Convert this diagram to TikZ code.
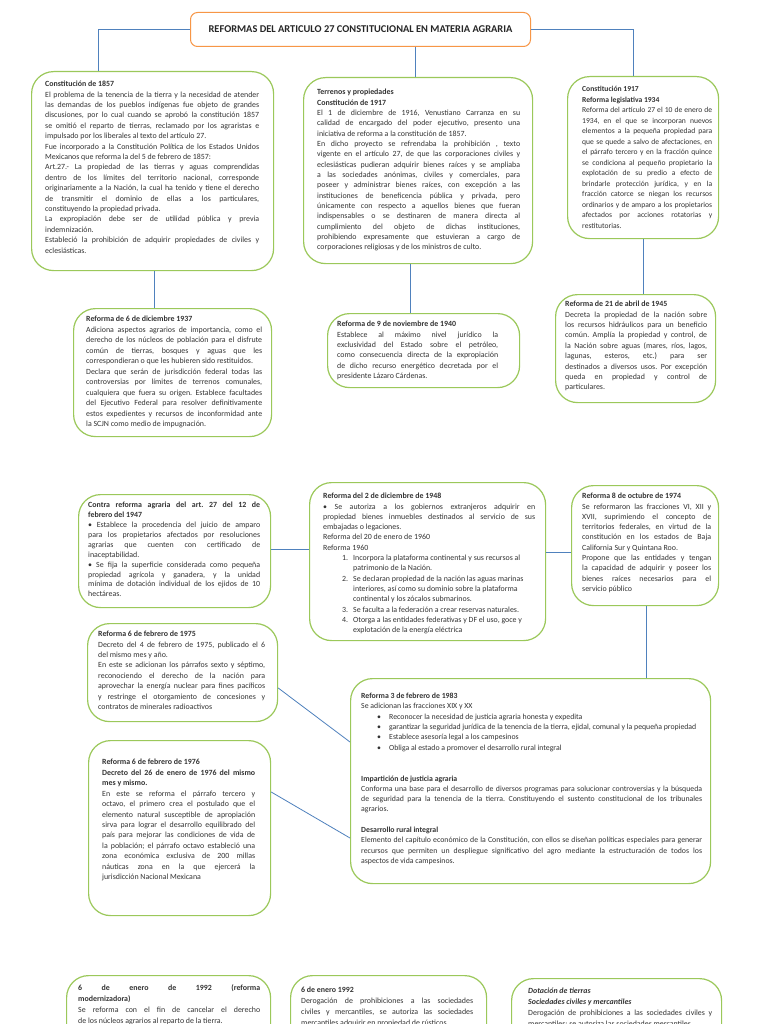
\documentclass[tikz,border=0pt]{standalone}
\usepackage{fontspec}
\setmainfont{Carlito}
\usetikzlibrary{calc}
\definecolor{boxgreen}{HTML}{9BC85A}
\definecolor{linkblue}{HTML}{4F81BD}
\definecolor{titleorange}{HTML}{F79646}
\definecolor{txtgray}{HTML}{333333}
\newcommand\jbr{\linebreak}
\newcommand\numitem[2]{\par\hangindent=30pt\hangafter=1\noindent\hspace*{19pt}\makebox[11pt][l]{#1}#2}
\newcommand\bitem[1]{\par\hangindent=28pt\hangafter=1\noindent\hspace*{16pt}\makebox[12pt][l]{•}#1}
\tolerance=10000 \hbadness=10000 \hyphenpenalty=10000 \exhyphenpenalty=10000
\frenchspacing
\begin{document}
\begin{tikzpicture}[x=1pt,y=-1pt,
  gbox/.style={draw=boxgreen, line width=1.2pt, rounded corners=22pt, anchor=north west, inner sep=0pt},
  link/.style={draw=linkblue, line width=0.8pt},
  txt/.style={anchor=north west, inner sep=0pt, align=justify, text=txtgray, font=\fontsize{7.9}{#1}\selectfont},
  txt/.default=10.4]
\useasboundingbox (0,0) rectangle (768,1024);
\clip (0,0) rectangle (768,1024);
\fill[white] (0,0) rectangle (768,1024);

% title
\node[draw=titleorange, line width=1pt, rounded corners=7pt, anchor=north west, minimum width=340pt, minimum height=34pt, inner sep=0pt, text=black!85, font=\fontsize{10.4}{12}\selectfont\bfseries] (title) at (190,12) {REFORMAS DEL ARTICULO 27 CONSTITUCIONAL EN MATERIA AGRARIA};

% boxes
\node[gbox, minimum width=242pt, minimum height=199pt] (b1) at (31,71) {};
\node[gbox, minimum width=229pt, minimum height=186pt] (b2) at (303,77) {};
\node[gbox, minimum width=151pt, minimum height=162pt] (b3) at (567,76) {};
\node[gbox, minimum width=198pt, minimum height=128pt] (b4) at (73,308) {};
\node[gbox, minimum width=192pt, minimum height=74pt] (b5) at (327,313) {};
\node[gbox, minimum width=160pt, minimum height=108pt] (b6) at (555,294) {};
\node[gbox, minimum width=192pt, minimum height=113pt] (b7) at (78,494) {};
\node[gbox, minimum width=236pt, minimum height=158pt] (b8) at (309,482) {};
\node[gbox, minimum width=147pt, minimum height=120pt] (b9) at (571,485) {};
\node[gbox, minimum width=190pt, minimum height=98pt] (b10) at (87,623) {};
\node[gbox, minimum width=182pt, minimum height=175pt] (b11) at (88,740) {};
\node[gbox, minimum width=360pt, minimum height=205pt] (b12) at (350,678) {};
\node[gbox, minimum width=204pt, minimum height=90pt] (b13) at (66,975) {};
\node[gbox, minimum width=196pt, minimum height=90pt] (b14) at (290,975) {};
\node[gbox, minimum width=210pt, minimum height=90pt] (b15) at (511,978) {};

% connectors
\coordinate (c1) at (98,0);
\coordinate (c2) at (633,0);
\coordinate (c3) at (415,0);
\coordinate (c4) at (154,0);
\coordinate (c5) at (410,0);
\coordinate (c6) at (643,0);
\coordinate (c7) at (0,549);
\coordinate (c8) at (0,552);
\coordinate (c9) at (646,0);
\coordinate (c10) at (0,688);
\coordinate (c11) at (0,742);
\coordinate (c12) at (0,792);
\coordinate (c13) at (0,838);
\draw[link] (title.west) -| (c1 |- b1.north);
\draw[link] (title.east) -| (c2 |- b3.north);
\draw[link] (title.south -| c3) -- (c3 |- b2.north);
\draw[link] (b1.south -| c4) -- (c4 |- b4.north);
\draw[link] (b2.south -| c5) -- (c5 |- b5.north);
\draw[link] (b3.south -| c6) -- (c6 |- b6.north);
\draw[link] (b7.east |- c7) -- (b8.west |- c7);
\draw[link] (b8.east |- c8) -- (b9.west |- c8);
\draw[link] (b9.south -| c9) -- (c9 |- b12.north);
\draw[link] (b10.east |- c10) -- (b12.west |- c11);
\draw[link] (b11.east |- c12) -- (b12.west |- c13);

% texts
\node[txt, text width=214pt] (t1) at (45,81) {\textbf{Constitución de 1857}\par
El problema de la tenencia de la tierra y la necesidad de atender\jbr las demandas de los pueblos indígenas fue objeto de grandes\jbr discusiones, por lo cual cuando se aprobó la constitución 1857\jbr se omitió el reparto de tierras, reclamado por los agraristas e\jbr impulsado por los liberales al texto del artículo 27.\par
Fue incorporado a la Constitución Política de los Estados Unidos\jbr Mexicanos que reforma la del 5 de febrero de 1857:\par
Art.27.- La propiedad de las tierras y aguas comprendidas\jbr dentro de los límites del territorio nacional, corresponde\jbr originariamente a la Nación, la cual ha tenido y tiene el derecho\jbr de transmitir el dominio de ellas a los particulares,\jbr constituyendo la propiedad privada.\par
La expropiación debe ser de utilidad pública y previa\jbr indemnización.\par
Estableció la prohibición de adquirir propiedades de civiles y\jbr eclesiásticas.};

\node[txt=10.33, text width=203pt] (t2) at (317,89) {\textbf{Terrenos y propiedades}\par\textbf{Constitución de 1917}\par
El 1 de diciembre de 1916, Venustiano Carranza en su\jbr calidad de encargado del poder ejecutivo, presento una\jbr iniciativa de reforma a la constitución de 1857.\par
En dicho proyecto se refrendaba la prohibición , texto\jbr vigente en el artículo 27, de que las corporaciones civiles y\jbr eclesiásticas pudieran adquirir bienes raíces y se ampliaba\jbr a las sociedades anónimas, civiles y comerciales, para\jbr poseer y administrar bienes raíces, con excepción a las\jbr instituciones de beneficencia pública y privada, pero\jbr únicamente con respecto a aquellos bienes que fueran\jbr indispensables o se destinaren de manera directa al\jbr cumplimiento del objeto de dichas instituciones,\jbr prohibiendo expresamente que estuvieran a cargo de\jbr corporaciones religiosas y de los ministros de culto.};

\node[txt, text width=130pt, font=\fontsize{7.6}{10.5}\selectfont] (t3) at (582,86) {\textbf{Constitución 1917}\par\textbf{Reforma legislativa 1934}\par
Reforma del artículo 27 el 10 de enero de\jbr 1934, en el que se incorporan nuevos\jbr elementos a la pequeña propiedad para\jbr que se quede a salvo de afectaciones, en\jbr el párrafo tercero y en la fracción quince\jbr se condiciona al pequeño propietario la\jbr explotación de su predio a efecto de\jbr brindarle protección jurídica, y en la\jbr fracción catorce se niegan los recursos\jbr ordinarios y de amparo a los propietarios\jbr afectados por acciones rotatorias y\jbr restitutorias.};

\node[txt=10.5, text width=176pt] (t4) at (86,316) {\textbf{Reforma de 6 de diciembre 1937}\par
Adiciona aspectos agrarios de importancia, como el\jbr derecho de los núcleos de población para el disfrute\jbr común de tierras, bosques y aguas que les\jbr correspondieran o que les hubieren sido restituidos.\par
Declara que serán de jurisdicción federal todas las\jbr controversias por límites de terrenos comunales,\jbr cualquiera que fuera su origen. Establece facultades\jbr del Ejecutivo Federal para resolver definitivamente\jbr estos expedientes y recursos de inconformidad ante\jbr la SCJN como medio de impugnación.};

\node[txt, text width=161pt] (t5) at (337,321) {\textbf{Reforma de 9 de noviembre de 1940}\par
Establece al máximo nivel jurídico la\jbr exclusividad del Estado sobre el petróleo,\jbr como consecuencia directa de la expropiación\jbr de dicho recurso energético decretada por el\jbr presidente Lázaro Cárdenas.};

\node[txt, text width=142pt] (t6) at (565,301) {\textbf{Reforma de 21 de abril de 1945}\par
Decreta la propiedad de la nación sobre\jbr los recursos hidráulicos para un beneficio\jbr común. Amplía la propiedad y control, de\jbr la Nación sobre aguas (mares, ríos, lagos,\jbr lagunas, esteros, etc.) para ser\jbr destinados a diversos usos. Por excepción\jbr queda en propiedad y control de\jbr particulares.};

\node[txt=9.9, text width=172pt] (t7) at (88,502) {\textbf{Contra reforma agraria del art. 27 del 12 de\jbr febrero del 1947}\par
• Establece la procedencia del juicio de amparo\jbr para los propietarios afectados por resoluciones\jbr agrarias que cuenten con certificado de\jbr inaceptabilidad.\par
• Se fija la superficie considerada como pequeña\jbr propiedad agrícola y ganadera, y la unidad\jbr mínima de dotación individual de los ejidos de 10\jbr hectáreas.};

\node[txt=10.3, text width=212pt] (t8) at (323,493) {\textbf{Reforma del 2 de diciembre de 1948}\par
• Se autoriza a los gobiernos extranjeros adquirir en\jbr propiedad bienes inmuebles destinados al servicio de sus\jbr embajadas o legaciones.\par
Reforma del 20 de enero de 1960\par
Reforma 1960
\numitem{1.}{Incorpora la plataforma continental y sus recursos al\\ patrimonio de la Nación.}
\numitem{2.}{Se declaran propiedad de la nación las aguas marinas\\ interiores, así como su dominio sobre la plataforma\\ continental y los zócalos submarinos.}
\numitem{3.}{Se faculta a la federación a crear reservas naturales.}
\numitem{4.}{Otorga a las entidades federativas y DF el uso, goce y\\ explotación de la energía eléctrica}\par};

\node[txt=10.3, text width=129pt] (t9) at (582,493) {\textbf{Reforma 8 de octubre de 1974}\par
Se reformaron las fracciones VI, XII y\jbr XVII, suprimiendo el concepto de\jbr territorios federales, en virtud de la\jbr constitución en los estados de Baja\jbr California Sur y Quintana Roo.\par
Propone que las entidades y tengan\jbr la capacidad de adquirir y poseer los\jbr bienes raíces necesarios para el\jbr servicio público};

\node[txt, text width=167pt] (t10) at (98,631) {\textbf{Reforma 6 de febrero de 1975}\par
Decreto del 4 de febrero de 1975, publicado el 6\jbr del mismo mes y año.\par
En este se adicionan los párrafos sexto y séptimo,\jbr reconociendo el derecho de la nación para\jbr aprovechar la energía nuclear para fines pacíficos\jbr y restringe el otorgamiento de concesiones y\jbr contratos de minerales radioactivos};

\node[txt=10.45, text width=153pt] (t11) at (102,759) {\textbf{Reforma 6 de febrero de 1976}\par
\textbf{Decreto del 26 de enero de 1976 del mismo\jbr mes y mismo.}\par
En este se reforma el párrafo tercero y\jbr octavo, el primero crea el postulado que el\jbr elemento natural susceptible de apropiación\jbr sirva para lograr el desarrollo equilibrado del\jbr país para mejorar las condiciones de vida de\jbr la población; el párrafo octavo estableció una\jbr zona económica exclusiva de 200 millas\jbr náuticas zona en la que ejercerá la\jbr jurisdicción Nacional Mexicana};

\node[txt, text width=341pt, font=\fontsize{7.8}{10.3}\selectfont] (t12) at (361,693) {\textbf{Reforma 3 de febrero de 1983}\par
Se adicionan las fracciones XIX y XX
\bitem{Reconocer la necesidad de justicia agraria honesta y expedita}
\bitem{garantizar la seguridad jurídica de la tenencia de la tierra, ejidal, comunal y la pequeña propiedad}
\bitem{Establece asesoría legal a los campesinos}
\bitem{Obliga al estado a promover el desarrollo rural integral}
\par\vskip 20.6pt
\textbf{Impartición de justicia agraria}\par
Conforma una base para el desarrollo de diversos programas para solucionar controversias y la búsqueda\jbr de seguridad para la tenencia de la tierra. Constituyendo el sustento constitucional de los tribunales\jbr agrarios.\par\vskip 10.3pt
\textbf{Desarrollo rural integral}\par
Elemento del capítulo económico de la Constitución, con ellos se diseñan políticas especiales para generar\jbr recursos que permiten un despliegue significativo del agro mediante la estructuración de todos los\jbr aspectos de vida campesinos.};

\node[txt=11, text width=182pt] (t13) at (78,984) {\textbf{6 de enero de 1992 (reforma\jbr modernizadora)}\par
Se reforma con el fin de cancelar el derecho\jbr de los núcleos agrarios al reparto de la tierra.};

\node[txt=11, text width=172pt] (t14) at (301,987) {\textbf{6 de enero 1992}\par
Derogación de prohibiciones a las sociedades\jbr civiles y mercantiles, se autoriza las sociedades\jbr mercantiles adquirir en propiedad de rústicos};

\node[txt=11, text width=184pt] (t15) at (528,988) {\textbf{\textit{Dotación de tierras}}\par
\textbf{\textit{Sociedades civiles y mercantiles}}\par
Derogación de prohibiciones a las sociedades civiles y\jbr mercantiles; se autoriza las sociedades mercantiles};
\end{tikzpicture}
\end{document}
